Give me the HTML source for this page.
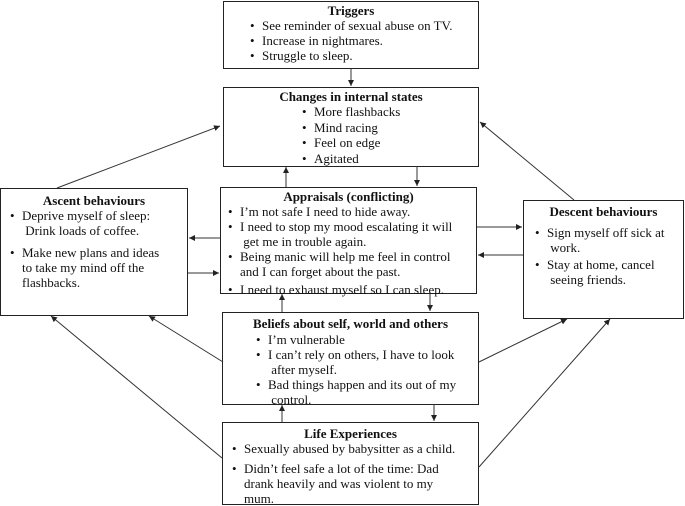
<!DOCTYPE html>
<html><head><meta charset="utf-8"><style>
body{margin:0;width:685px;height:504px;background:#fff;position:relative;overflow:hidden;font-family:"Liberation Serif",serif;font-size:13px;color:#111;line-height:15px}
.b{position:absolute;border:1.5px solid #222;box-sizing:border-box;background:#fff}
.t{font-weight:bold;text-align:center;font-size:13px;margin-top:1px}
ul{margin:0;padding:0;list-style:none;white-space:nowrap}
li{position:relative;padding-left:13px}
li:before{content:"•";position:absolute;left:1px}
svg{position:absolute;left:0;top:0;z-index:2}
</style></head><body>
<svg width="685" height="504">
<defs><marker id="a" markerWidth="7" markerHeight="7" refX="6" refY="3" orient="auto"><path d="M0,0 L6,3 L0,6 z" fill="#222"/></marker></defs>
<g stroke="#333" stroke-width="1" fill="none" marker-end="url(#a)">
<line x1="351" y1="69" x2="351" y2="86"/>
<line x1="57" y1="188" x2="220" y2="126"/>
<line x1="417" y1="166" x2="417" y2="186"/>
<line x1="286" y1="187" x2="286" y2="167"/>
<line x1="574" y1="200" x2="480" y2="122"/>
<line x1="220" y1="238" x2="189" y2="238"/>
<line x1="188" y1="273" x2="219" y2="273"/>
<line x1="477" y1="227" x2="522" y2="227"/>
<line x1="523" y1="255" x2="478" y2="255"/>
<line x1="430" y1="293" x2="430" y2="311"/>
<line x1="282" y1="312" x2="282" y2="294"/>
<line x1="223" y1="362" x2="149" y2="316"/>
<line x1="222" y1="458" x2="51" y2="316"/>
<line x1="479" y1="362" x2="567" y2="319"/>
<line x1="479" y1="467" x2="610" y2="319"/>
<line x1="434" y1="404" x2="434" y2="421"/>
<line x1="282" y1="422" x2="282" y2="405"/>
</g></svg>
<div class="b" style="left:223px;top:1px;width:256px;height:68px"><div class="t">Triggers</div><ul style="margin-left:25px"><li>See reminder of sexual abuse on TV.</li><li>Increase in nightmares.</li><li>Struggle to sleep.</li></ul></div>
<div class="b" style="left:223px;top:87px;width:256px;height:80px"><div class="t">Changes in internal states</div><ul style="margin-left:77px;line-height:15.5px"><li>More flashbacks</li><li>Mind racing</li><li>Feel on edge</li><li>Agitated</li></ul></div>
<div class="b" style="left:220px;top:187px;width:257px;height:107px"><div class="t">Appraisals (conflicting)</div><ul style="margin-left:6px"><li>I’m not safe I need to hide away.</li><li>I need to stop my mood escalating it will<br>&nbsp;get me in trouble again.</li><li>Being manic will help me feel in control<br>and I can forget about the past.</li><li style="margin-top:3px">I need to exhaust myself so I can sleep.</li></ul></div>
<div class="b" style="left:0px;top:188px;width:188px;height:128px"><div class="t" style="margin-top:4px">Ascent behaviours</div><ul style="margin-left:8px"><li>Deprive myself of sleep:<br>&nbsp;Drink loads of coffee.</li><li style="margin-top:7px">Make new plans and ideas<br>to take my mind off the<br>flashbacks.</li></ul></div>
<div class="b" style="left:523px;top:200px;width:161px;height:119px"><div class="t" style="margin-top:3px">Descent behaviours</div><ul style="margin-left:10px;margin-top:6px"><li>Sign myself off sick at<br>&nbsp;work.</li><li style="margin-top:2px">Stay at home, cancel<br>&nbsp;seeing friends.</li></ul></div>
<div class="b" style="left:222px;top:312px;width:257px;height:93px"><div class="t" style="margin-top:3px">Beliefs about self, world and others</div><ul style="margin-left:32px;margin-top:1px"><li>I’m vulnerable</li><li>I can’t rely on others, I have to look<br>&nbsp;after myself.</li><li>Bad things happen and its out of my<br>&nbsp;control.</li></ul></div>
<div class="b" style="left:222px;top:422px;width:257px;height:83px"><div class="t" style="margin-top:3px">Life Experiences</div><ul style="margin-left:8px"><li>Sexually abused by babysitter as a child.</li><li style="margin-top:5px">Didn’t feel safe a lot of the time: Dad<br>drank heavily and was violent to my<br>mum.</li></ul></div>
</body></html>
